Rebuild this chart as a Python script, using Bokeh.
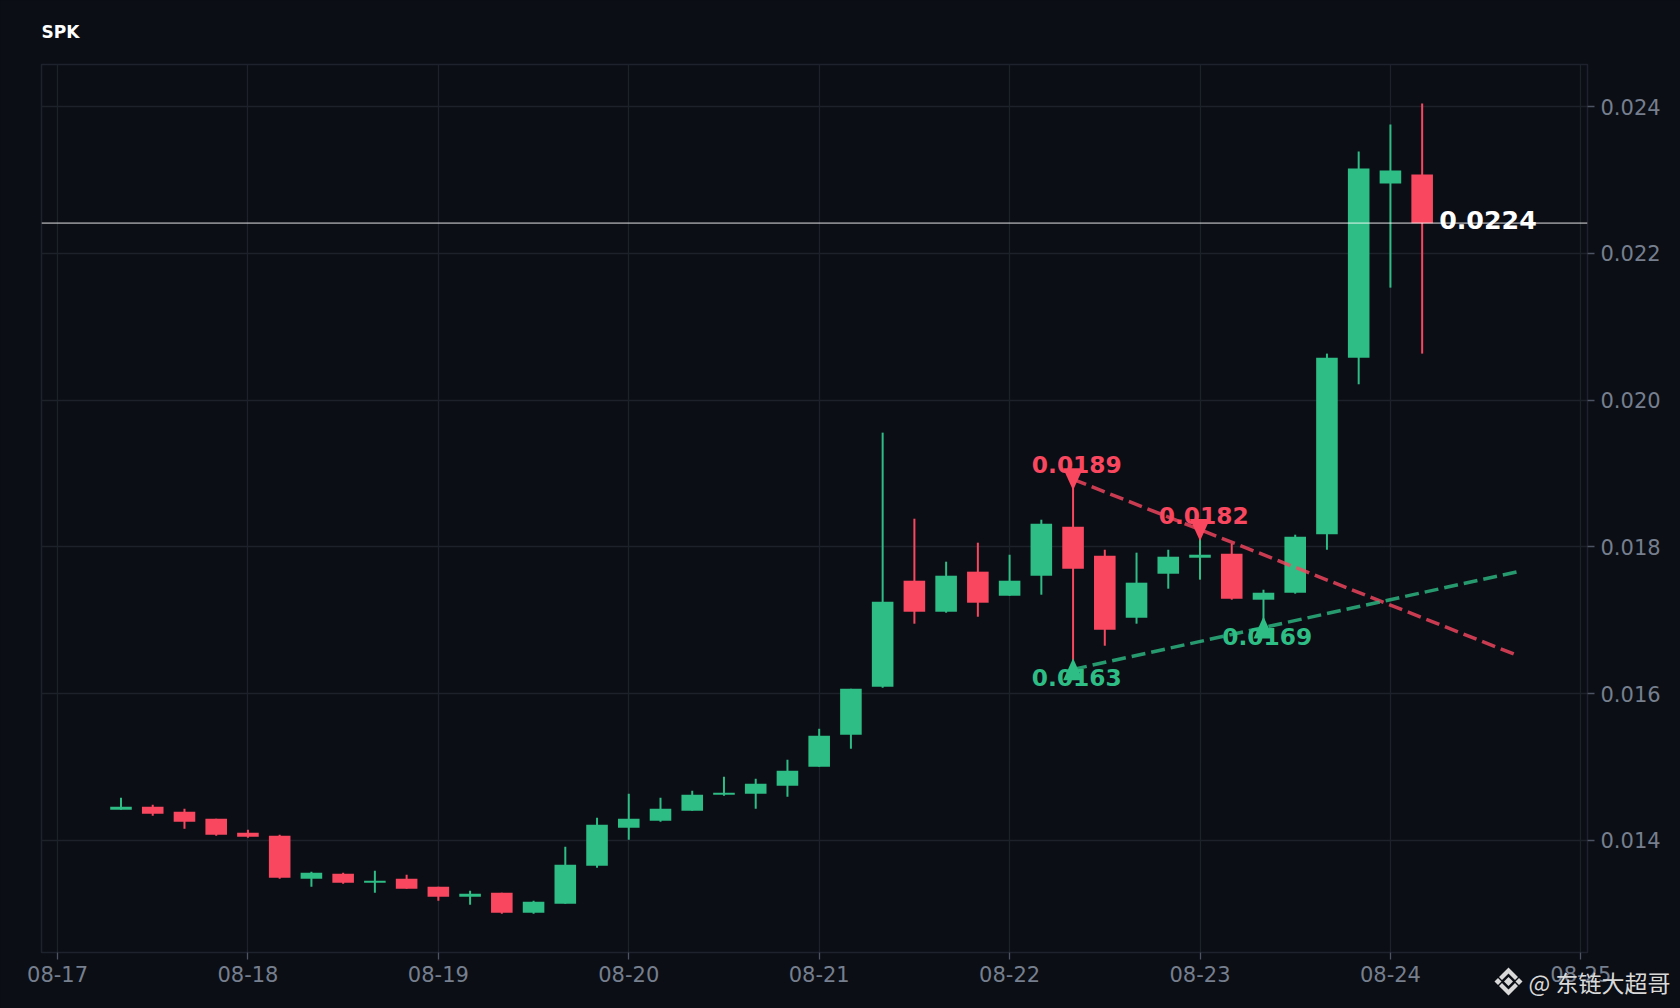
from bokeh.plotting import figure
from bokeh.embed import file_html
from bokeh.layouts import column
from bokeh.resources import INLINE
from bokeh.models import ColumnDataSource, FixedTicker, Span
from bokeh.core.properties import value

title_text = "SPK"
watermark_text = ["@ 东链大超哥"]
tick_dates = ["08-17", "08-18", "08-19", "08-20", "08-21", "08-22", "08-23", "08-24", "08-25"]
tick_slots = [0, 6, 12, 18, 24, 30, 36, 42, 48]
price_ticks = [0.014, 0.016, 0.018, 0.020, 0.022, 0.024]
price_labels = ["0.014", "0.016", "0.018", "0.020", "0.022", "0.024"]

slots = list(range(2, 44))
opens = [.014416,.014457,.014389,.014293,.014102,.014061,.013475,.013543,.013421,.013475,.013366,.013230,.013284,.013012,
         .013134,.013652,.014170,.014266,.014402,.014620,.014634,.014743,.015002,.015438,.016093,.017538,.017115,.017661,
         .017333,.017606,.018274,.017879,.017033,.017633,.017851,.017906,.017279,.017374,.018170,.020578,.022950,.023073]
highs = [.014580,.014484,.014429,.014293,.014143,.014075,.013571,.013557,.013584,.013530,.013366,.013312,.013284,.013175,
         .013911,.014307,.014634,.014580,.014675,.014866,.014839,.015098,.015520,.016065,.019556,.018383,.017797,.018056,
         .017892,.018369,.018920,.017960,.017920,.017960,.018230,.018042,.017415,.018165,.020633,.023386,.023754,.024041]
lows = [.014416,.014334,.014157,.014061,.014034,.013475,.013366,.013407,.013284,.013339,.013175,.013121,.012998,.012998,
        .013134,.013625,.014007,.014252,.014402,.014607,.014429,.014593,.015002,.015248,.016079,.016952,.017102,.017047,
        .017333,.017347,.016330,.016652,.016952,.017429,.017552,.017279,.016900,.017361,.017960,.020215,.021532,.020633]
closes = [.014457,.014361,.014252,.014075,.014048,.013489,.013557,.013421,.013448,.013339,.013230,.013271,.013012,.013162,
          .013666,.014211,.014293,.014429,.014620,.014648,.014770,.014948,.015425,.016065,.017252,.017115,.017606,.017238,
          .017538,.018315,.017701,.016870,.017511,.017865,.017892,.017292,.017374,.018138,.020578,.023155,.023127,.022409]

last_price = 0.02241
last_price_label = "0.0224"
last_slot = 43

peak_slots = [32, 36]
peak_prices = [0.01892, 0.01823]
peak_labels = ["0.0189", "0.0182"]
trough_slots = [32, 38]
trough_prices = [0.01633, 0.0169]
trough_labels = ["0.0163", "0.0169"]
down_line_slots = [32, 46]
down_line_prices = [0.01892, 0.01652]
up_line_slots = [32, 46]
up_line_prices = [0.01633, 0.01766]

GREEN = "#2EBD85"
RED = "#F9475F"
BG = "#0B0E15"
GRID = "#1C212A"
TICK = "#4C5362"
LABEL = "#767F8E"
FONT = "DejaVu Sans"
BODY = 0.68
MARK_W = 0.315
MARK_H = 0.000150

p = figure(width=1680, height=1008, output_backend="svg", toolbar_location=None,
           x_range=(-0.505, 48.21), y_range=(0.012471, 0.024573),
           y_axis_location="right", min_border_left=41, min_border_right=93,
           min_border_top=64, min_border_bottom=56,
           background_fill_color=BG, border_fill_color=BG,
           outline_line_color="#1E222C", outline_line_width=1.5)
p.frame_align = False
p.title.text = title_text
p.title.text_color = "#FFFFFF"
p.title.text_font = FONT
p.title.text_font_size = "17px"
p.title.text_font_style = "bold"
p.title.align = "left"
p.title.vertical_align = "top"
p.title.offset = 0
p.title.standoff = 42

for grid in (p.xgrid[0], p.ygrid[0]):
    grid.grid_line_color = GRID
    grid.grid_line_width = 1.3
for ax in (p.xaxis[0], p.yaxis[0]):
    ax.axis_line_color = None
    ax.major_tick_line_color = TICK
    ax.major_tick_line_width = 1.3
    ax.major_tick_in = 0
    ax.major_tick_out = 7
    ax.minor_tick_line_color = None
    ax.major_label_text_color = LABEL
    ax.major_label_text_font = FONT
    ax.major_label_text_font_size = "21px"
    ax.major_label_standoff = 6
p.xaxis[0].ticker = FixedTicker(ticks=tick_slots)
p.yaxis[0].ticker = FixedTicker(ticks=price_ticks)
p.xaxis[0].major_label_overrides = dict(zip(tick_slots, tick_dates))
p.yaxis[0].major_label_overrides = dict(zip(price_ticks, price_labels))

colors = [GREEN if c >= o else RED for o, c in zip(opens, closes)]
src = ColumnDataSource(dict(x=slots, o=opens, h=highs, l=lows, c=closes, color=colors))
p.segment("x", "h", "x", "l", color="color", line_width=2, source=src)
p.vbar("x", BODY, "o", "c", fill_color="color", line_color=None, source=src)

p.line(down_line_slots, down_line_prices, line_color=RED, line_width=3.5, line_alpha=0.8, line_dash="14 6")
p.line(up_line_slots, up_line_prices, line_color=GREEN, line_width=3.5, line_alpha=0.8, line_dash="14 6")

p.patches([[s - MARK_W, s + MARK_W, s] for s in peak_slots],
          [[v + MARK_H, v + MARK_H, v - MARK_H] for v in peak_prices],
          fill_color=RED, line_color=None)
p.patches([[s - MARK_W, s + MARK_W, s] for s in trough_slots],
          [[v - MARK_H, v - MARK_H, v + MARK_H] for v in trough_prices],
          fill_color=GREEN, line_color=None)

p.text(peak_slots, peak_prices, text=peak_labels, text_color=RED, text_font=value(FONT),
       text_font_size="23.3px", text_font_style="bold", text_align="center", text_baseline="middle",
       x_offset=3.7, y_offset=-14.5)
p.text(trough_slots, trough_prices, text=trough_labels, text_color=GREEN, text_font=value(FONT),
       text_font_size="23.3px", text_font_style="bold", text_align="center", text_baseline="middle",
       x_offset=3.7, y_offset=8.5)

p.add_layout(Span(location=last_price, dimension="width", line_color="#FFFFFF", line_alpha=0.5, line_width=1.8))
p.text([last_slot], [last_price], text=[last_price_label], text_color="#FFFFFF", text_font=value(FONT),
       text_font_size="25.3px", text_font_style="bold", text_align="left", text_baseline="middle",
       x_offset=17, y_offset=-3)

# watermark: a transparent strip laid over the bottom of the chart, scaled in page pixels
WM = "#D9D9D9"
wm = figure(width=1680, height=38, output_backend="svg", toolbar_location=None,
            x_range=(0, 1680), y_range=(38, 0), x_axis_type=None, y_axis_type=None,
            min_border=0, outline_line_color=None, background_fill_alpha=0, border_fill_alpha=0,
            margin=(-46, 0, 0, 0))
wm.frame_align = False
wm.grid.visible = False
logo_x, logo_y = 1508, 19
logo_parts = [
    [(-4.5, 0), (0, 4.5), (4.5, 0), (0, -4.5)],
    [(-14, 0), (-10.5, 3.5), (-7, 0), (-10.5, -3.5)],
    [(14, 0), (10.5, 3.5), (7, 0), (10.5, -3.5)],
    [(-9.5, 4.5), (0, 14), (9.5, 4.5), (6.5, 1.5), (0, 8), (-6.5, 1.5)],
    [(-9.5, -4.5), (0, -14), (9.5, -4.5), (6.5, -1.5), (0, -8), (-6.5, -1.5)],
]
wm.patches([[logo_x + a for a, _ in part] for part in logo_parts],
           [[logo_y + b for _, b in part] for part in logo_parts],
           fill_color=WM, line_color=None)
wm.text([1528], [19.5], text=watermark_text, text_color=WM, text_font=value("Noto Sans CJK SC"),
        text_font_size="23px", text_align="left", text_baseline="middle")

page = column(p, wm, spacing=0, margin=0)
html = file_html(page, INLINE)
html = html.replace("<head>", "<head><style>html,body{background:%s}</style>" % BG, 1)
open("out.html", "w").write(html)
